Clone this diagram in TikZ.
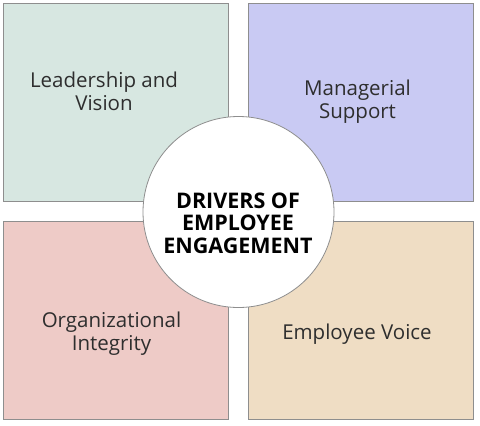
\documentclass[tikz,border=0pt]{standalone}
\usepackage{fontspec}
\setmainfont{Open Sans}
\definecolor{vision}{HTML}{D7E7E1}
\definecolor{support}{HTML}{C9CAF3}
\definecolor{integrity}{HTML}{EECBC7}
\definecolor{voice}{HTML}{EFDDC4}
\definecolor{edge}{HTML}{8E8E8E}
\definecolor{ink}{HTML}{2E2E2E}

\begin{document}
\begin{tikzpicture}[%
    x=1pt, y=-1pt,
    quad/.style={draw=edge, line width=0.8pt, minimum width=225pt, minimum height=198pt, inner sep=0pt},
    caption/.style={text=ink, align=center, inner sep=0pt, font=\fontsize{20.5}{23}\selectfont},
    hub/.style={circle, draw=edge, line width=0.8pt, fill=white, minimum size=191pt, inner sep=0pt}]

    \useasboundingbox (0,0) rectangle (480,426);

    \node[quad, fill=vision] at (115.5,102) (qVision) {};
    \node[quad, fill=support] at (360.5,102) (qSupport) {};
    \node[quad, fill=integrity] at (115.5,320.5) (qIntegrity) {};
    \node[quad, fill=voice] at (360.5,320.5) (qVoice) {};

    \node[caption] at (104,91) (tVision) {Leadership and\\Vision};
    \node[caption] at (357.5,102) (tSupport) {Managerial\\Support};
    \node[caption] at (111.5,334) (tIntegrity) {Organizational\\Integrity};
    \node[caption] at (357,334) (tVoice) {Employee Voice};

    \node[hub] at (238.5,212) (hub) {};
    \node[align=center, inner sep=0pt, font=\bfseries\fontsize{21.5}{22.5}\selectfont] at (238,223) (tHub) {DRIVERS OF\\EMPLOYEE\\ENGAGEMENT};

\end{tikzpicture}
\end{document}
